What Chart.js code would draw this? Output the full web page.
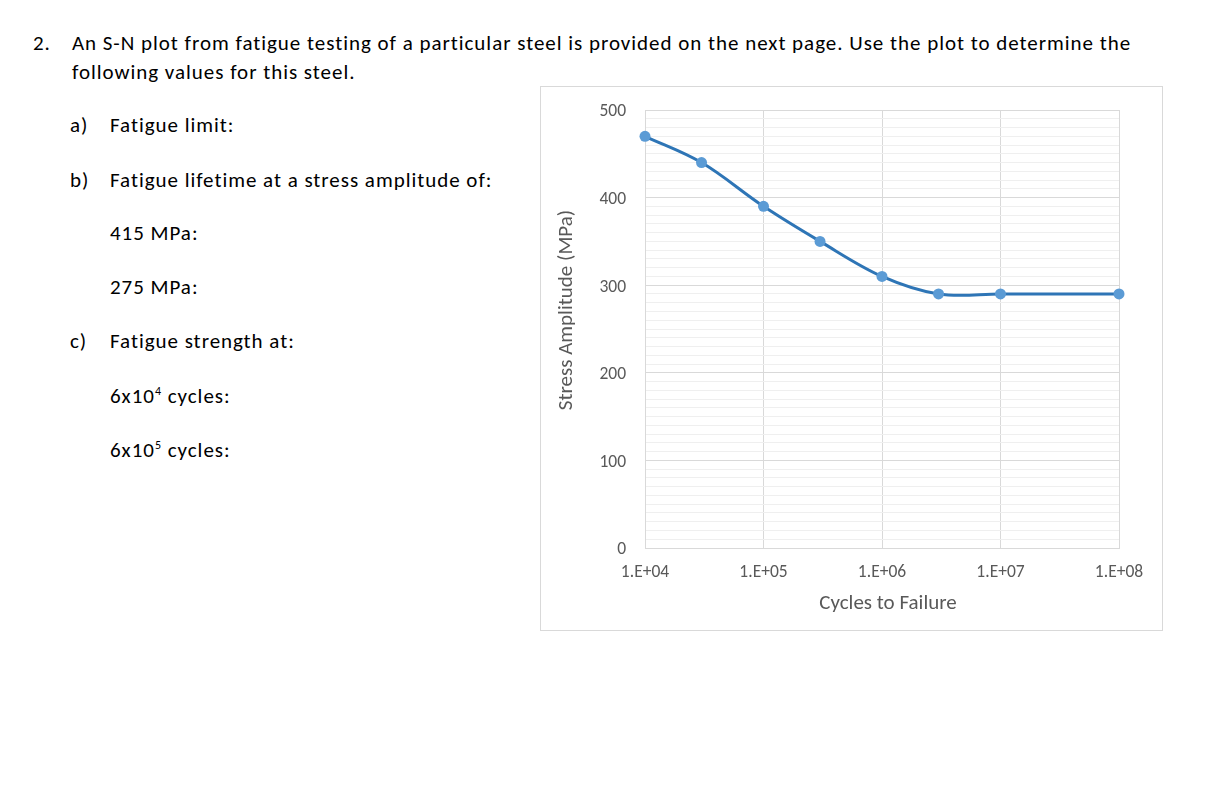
<!DOCTYPE html>
<html>
<head>
<meta charset="utf-8">
<script src="https://cdn.jsdelivr.net/npm/chart.js@4/dist/chart.umd.min.js"></script>
<style>
  body { margin: 0; background: #fff; font-family: Calibri, Carlito, Lato, sans-serif; color: #000; }
  .t { position: absolute; font-size: 21px; letter-spacing: 0.97px; white-space: nowrap; line-height: 1; }
  sup { font-size: 12px; vertical-align: 8px; }
  #box { position: absolute; left: 540px; top: 86px; width: 621px; height: 543px; border: 1px solid #d9d9d9; }
  #sn { display: block; }
</style>
</head>
<body>
<div class="t" style="left:33px; top:33px">2.</div>
<div class="t" style="left:72px; top:33px">An S-N plot from fatigue testing of a particular steel is provided on the next page. Use the plot to determine the</div>
<div class="t" style="left:72px; top:62px">following values for this steel.</div>
<div class="t" style="left:70px; top:115px">a)</div>
<div class="t" style="left:110px; top:115px">Fatigue limit:</div>
<div class="t" style="left:70px; top:170px">b)</div>
<div class="t" style="left:110px; top:170px">Fatigue lifetime at a stress amplitude of:</div>
<div class="t" style="left:110px; top:223px">415 MPa:</div>
<div class="t" style="left:110px; top:277px">275 MPa:</div>
<div class="t" style="left:70px; top:331px">c)</div>
<div class="t" style="left:110px; top:331px">Fatigue strength at:</div>
<div class="t" style="left:110px; top:385px">6x10<sup>4</sup> cycles:</div>
<div class="t" style="left:110px; top:439px">6x10<sup>5</sup> cycles:</div>

<div id="box"><canvas id="sn" width="621" height="543"></canvas></div>

<script>
// valores
const ciclos = [1e4, 3e4, 1e5, 3e5, 1e6, 3e6, 1e7, 1e8]
const esfuerzo = [470, 440, 390, 350, 310, 290, 290, 290]
const ticksX = [1e4, 1e5, 1e6, 1e7, 1e8]
const etiquetasX = ["1.E+04", "1.E+05", "1.E+06", "1.E+07", "1.E+08"]
const tituloX = "Cycles to Failure"
const tituloY = "Stress Amplitude (MPa)"

const puntos = ciclos.map((c, i) => {
  return { x: c, y: esfuerzo[i] }
})

const fuente = "Calibri, Carlito, Lato, sans-serif"
const gris = "#595959"

// titulos de ejes dibujados a mano (Excel no los centra exacto)
const titulos = {
  id: "titulos",
  afterDraw(chart) {
    const ctx = chart.ctx
    const area = chart.chartArea
    ctx.save()
    ctx.fillStyle = gris
    ctx.font = "21px " + fuente
    ctx.textAlign = "center"
    ctx.textBaseline = "middle"
    ctx.fillText(tituloX, (area.left + area.right) / 2 + 6, area.bottom + 56)
    ctx.translate(26, (area.top + area.bottom) / 2 - 19)
    ctx.rotate(-Math.PI / 2)
    ctx.fillText(tituloY, 0, 0)
    ctx.restore()
  }
}

const config = {
  type: "line",
  data: {
    datasets: [
      {
        data: puntos,
        borderColor: "#2E75B6",
        borderWidth: 3,
        tension: 0.35,
        pointRadius: 5.5,
        pointHoverRadius: 5.5,
        pointBackgroundColor: "#5B9BD5",
        pointBorderColor: "#5B9BD5",
        pointBorderWidth: 0,
        clip: false
      }
    ]
  },
  options: {
    responsive: false,
    animation: false,
    layout: { padding: { top: 23, right: 43, left: 0, bottom: 0 } },
    plugins: { legend: { display: false }, tooltip: { enabled: false } },
    scales: {
      x: {
        type: "logarithmic",
        min: 1e4,
        max: 1e8,
        afterBuildTicks: (scale) => {
          scale.ticks = ticksX.map((v) => ({ value: v }))
        },
        afterFit: (scale) => { scale.height = 82 },
        ticks: {
          autoSkip: false,
          maxRotation: 0,
          padding: 14,
          color: gris,
          font: { family: fuente, size: 17.5 },
          callback: (v) => {
            const i = ticksX.indexOf(v)
            return i >= 0 ? etiquetasX[i] : ""
          }
        },
        grid: { color: "#d9d9d9", drawTicks: false },
        border: { color: "#d9d9d9" }
      },
      y: {
        min: 0,
        max: 500,
        afterFit: (scale) => { scale.width = 104 },
        ticks: {
          stepSize: 10,
          autoSkip: false,
          padding: 0,
          labelOffset: 2,
          color: gris,
          font: { family: fuente, size: 17.5 },
          callback: (v) => (v % 100 === 0 ? v : "")
        },
        grid: {
          drawTicks: true,
          tickLength: 19,
          tickColor: "rgba(0,0,0,0)",
          color: (ctx) => (ctx.tick && ctx.tick.value % 100 === 0 ? "#d9d9d9" : "#efefef")
        },
        border: { color: "#d9d9d9" }
      }
    }
  },
  plugins: [titulos]
}

new Chart(document.getElementById("sn"), config)
</script>
</body>
</html>
